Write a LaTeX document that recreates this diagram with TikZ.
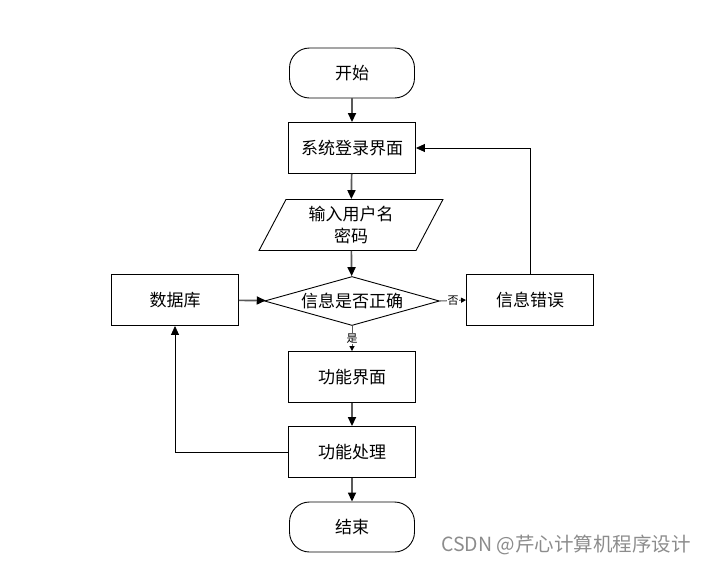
\documentclass[tikz,border=0pt]{standalone}
\usepackage{fontspec}
\setmainfont{Noto Sans CJK SC}
\usetikzlibrary{shapes.geometric,arrows.meta}

\tikzset{
  box/.style={draw, line width=0.9pt, minimum width=127pt, minimum height=51pt, inner sep=0pt, font=\fontsize{17}{22}\selectfont},
  terminal/.style={box, rounded corners=20pt, minimum width=125pt, minimum height=50pt},
  io/.style={box, trapezium, trapezium left angle=65, trapezium right angle=115, trapezium stretches=true, minimum width=184pt, align=center},
  decision/.style={box, diamond, aspect=3.5, minimum width=175pt, minimum height=49pt},
  flow/.style={draw=black!65, line width=1.7pt, -{Triangle[length=9pt,width=8pt,color=black]}},
  thin/.style={draw=black!65, line width=1pt, -{Triangle[length=5pt,width=5pt,color=black]}},
  back/.style={draw=black, line width=0.8pt, -{Triangle[length=9pt,width=8pt]}},
  lbl/.style={fill=white, inner sep=0.5pt, font=\fontsize{11}{13}\selectfont}
}

\begin{document}
\begin{tikzpicture}[x=1pt, y=-1pt]
  \useasboundingbox (0,0) rectangle (707,563);

  % main column
  \node[terminal] (start) at (352,73)  {开始};
  \node[box]      (login) at (352,148) {系统登录界面};
  \node[io]       (input) at (351,225) {输入用户名\\密码};
  \node[decision] (check) at (352,301) {信息是否正确};
  \node[box]      (func)  at (352,377) {功能界面};
  \node[box]      (proc)  at (352,452) {功能处理};
  \node[terminal] (stop)  at (352,527) {结束};

  % side boxes
  \node[box] (db)  at (175,300) {数据库};
  \node[box] (err) at (530,300) {信息错误};

  % arrows down
  \draw[flow] (start) -- (login);
  \draw[flow] (login) -- (input);
  \draw[flow] (input) -- (check);
  \draw[flow] (func)  -- (proc);
  \draw[flow] (proc)  -- (stop);
  \draw[flow] (db)    -- (check);

  % decision branches
  \draw[thin] (check.south) -- node[lbl] {是} (func.north);
  \draw[thin] (check.east)  -- node[lbl] {否} (err.west);

  % loops back
  \draw[back] (err.north) |- (login.east);
  \draw[back] (proc.west) -| (db.south);

  % watermark
  \node[text=black!45, font=\fontsize{19.5}{23}\selectfont] (mark) at (566,545) {CSDN @芹心计算机程序设计};

\end{tikzpicture}
\end{document}
